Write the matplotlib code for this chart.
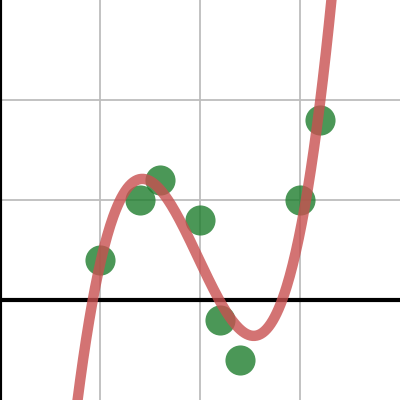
import numpy as np
import matplotlib
matplotlib.use("Agg")
import matplotlib.pyplot as plt

# points
x_pts = [1.0, 1.4, 1.6, 2.0, 2.2, 2.4, 3.0, 3.2]
y_pts = [0.4, 1.0, 1.2, 0.8, -0.2, -0.6, 1.0, 1.8]

# cubic fit through the points
coef = np.polyfit(x_pts, y_pts, 3)
xs = np.linspace(0, 4, 400)
ys = np.polyval(coef, xs)

fig = plt.figure(figsize=(4, 4), dpi=100)
ax = fig.add_axes([0, 0, 1, 1])

ax.set_xlim(0, 4)
ax.set_ylim(-1, 3)
ax.set_xticks([1, 2, 3])
ax.set_yticks([0, 1, 2])
ax.grid(True, color='#bdbdbd', linewidth=1.3)
ax.tick_params(length=0, labelbottom=False, labelleft=False)
for s in ax.spines.values():
    s.set_visible(False)

ax.axhline(0, color='black', linewidth=3, zorder=2)
ax.axvline(0, color='black', linewidth=3, zorder=2)

ax.scatter(x_pts, y_pts, s=470, color='#1e7d2d', alpha=0.8, linewidths=0, zorder=3)
ax.plot(xs, ys, color='#c85050', alpha=0.8, linewidth=7.5, zorder=4)

fig.savefig("out.png", dpi=100)
